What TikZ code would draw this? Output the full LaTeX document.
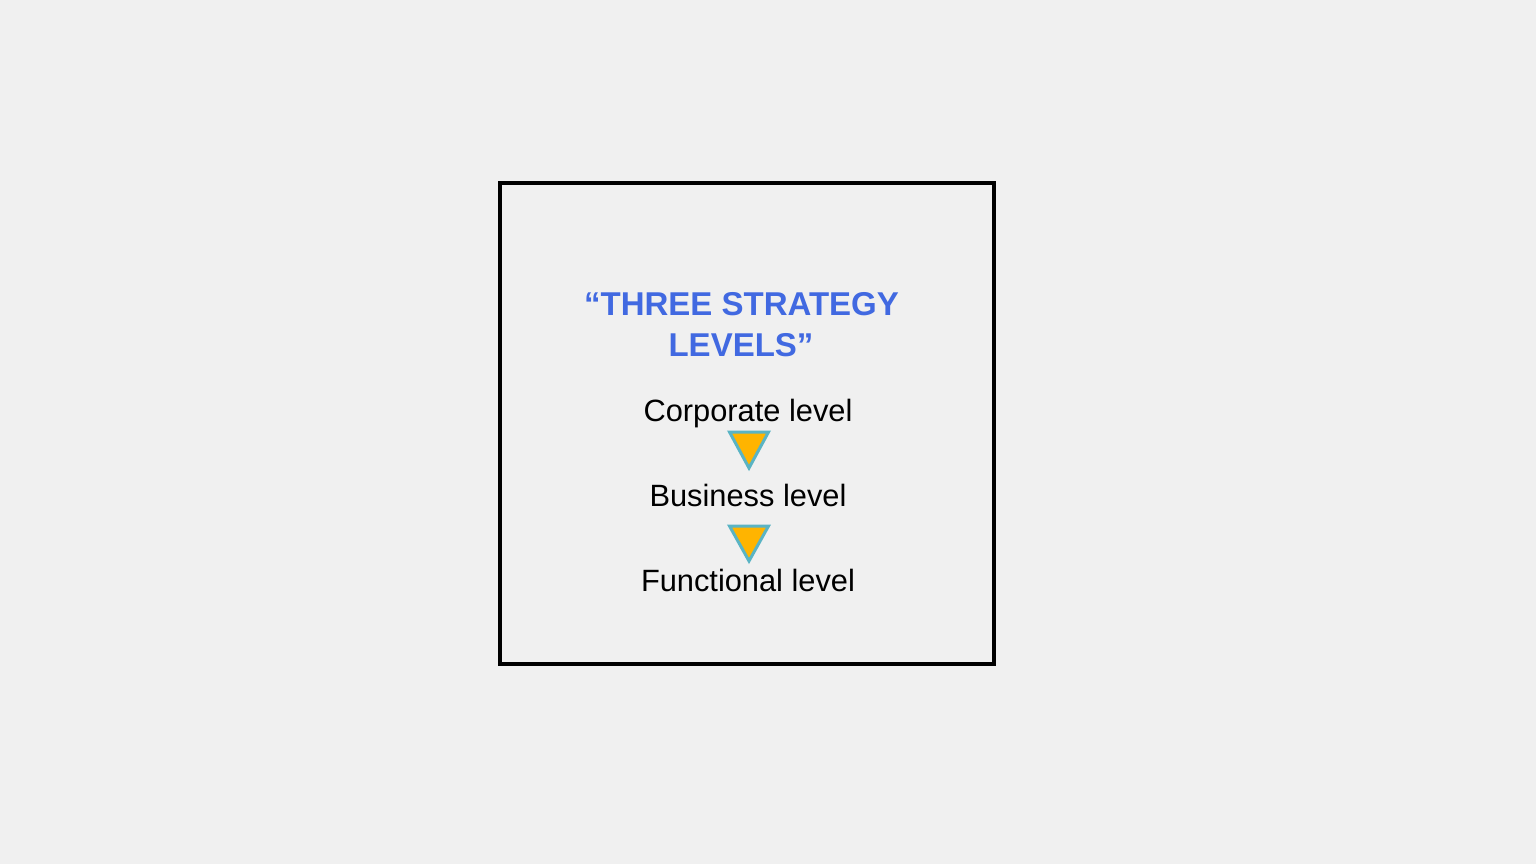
\documentclass[tikz,border=0pt]{standalone}
\usepackage{fontspec}
\setmainfont{Liberation Sans}
\definecolor{bg}{HTML}{F0F0F0}
\definecolor{titleblue}{HTML}{4169E1}
\definecolor{trifill}{HTML}{FFB400}
\definecolor{tristroke}{HTML}{5AB4C4}
\begin{document}
\begin{tikzpicture}[x=1pt,y=-1pt,
  levelbox/.style={anchor=base,inner sep=0pt,font=\fontsize{30.8}{36}\selectfont},
  titletext/.style={anchor=base,inner sep=0pt,text=titleblue,font=\fontsize{33}{41}\selectfont\bfseries},
  tri/.style={fill=trifill,draw=tristroke,line width=3pt,line join=miter}]
\fill[bg] (0,0) rectangle (1536,864);
\useasboundingbox (0,0) rectangle (1536,864);
\draw[line width=4pt] (500,183) rectangle (994,664);
\node[titletext] (t1) at (741.5,315) {“THREE STRATEGY};
\node[titletext] (t2) at (741,356) {LEVELS”};
\node[levelbox] (corp) at (748,421) {Corporate level};
\node[levelbox] (bus) at (748,506) {Business level};
\node[levelbox] (func) at (748,591) {Functional level};
\draw[tri] (729.5,432) -- (768.5,432) -- (749,468) -- cycle;
\draw[tri] (729.5,526) -- (768.5,526) -- (749,561) -- cycle;
\end{tikzpicture}
\end{document}
